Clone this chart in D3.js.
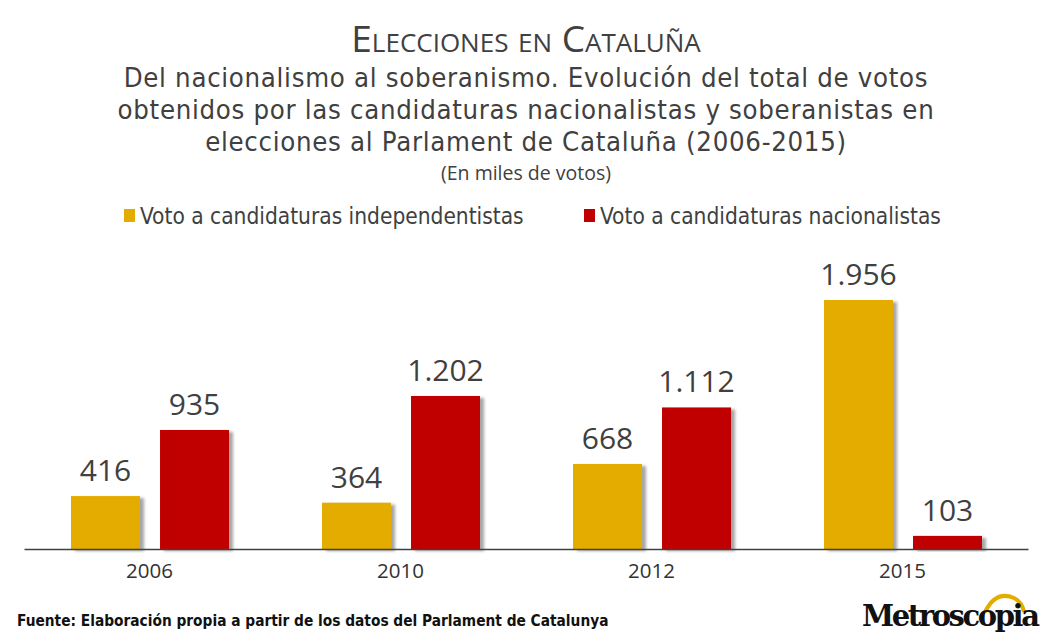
<!doctype html>
<html lang="es">
<head>
    <meta charset="utf-8">
    <title>Elecciones en Cataluña</title>
    <style>
        body {
            margin: 0;
            background-color: white;
            font-family: 'Open Sans', sans-serif;
        }
        svg text {
            fill: #404040;
        }
    </style>
</head>
<body>
    <svg id="chart"></svg>
    <script src="https://cdn.jsdelivr.net/npm/d3@7"></script>
    <script>
        var years = ["2006", "2010", "2012", "2015"];
        var seriesNames = ["Voto a candidaturas independentistas", "Voto a candidaturas nacionalistas"];
        var independentistas = [416, 364, 668, 1956];
        var nacionalistas = [935, 1202, 1112, 103];
        var valueLabels = [["416", "364", "668", "1.956"], ["935", "1.202", "1.112", "103"]];
        var colors = ["#e5ac00", "#c00000"];

        var svgWidth = 1051, svgHeight = 638;
        var svg = d3.select("#chart")
            .attr("width", svgWidth)
            .attr("height", svgHeight);

        // shadow behind bars
        var defs = svg.append("defs");
        var filter = defs.append("filter")
            .attr("id", "shadow")
            .attr("x", "-10%").attr("y", "-10%")
            .attr("width", "130%").attr("height", "130%");
        filter.append("feDropShadow")
            .attr("dx", 4).attr("dy", 2)
            .attr("stdDeviation", 1.5)
            .attr("flood-color", "#000")
            .attr("flood-opacity", 0.35);

        // titles
        svg.append("text")
            .attr("x", 526).attr("y", 52)
            .attr("text-anchor", "middle")
            .style("font-size", "37px")
            .style("font-variant", "small-caps")
            .text("Elecciones en Cataluña");

        var subtitle = [
            "Del nacionalismo al soberanismo. Evolución del total de votos",
            "obtenidos por las candidaturas nacionalistas y soberanistas en",
            "elecciones al Parlament de Cataluña (2006-2015)"
        ];
        svg.selectAll(".subtitle")
            .data(subtitle)
            .enter().append("text")
            .attr("class", "subtitle")
            .attr("x", 526)
            .attr("y", function (d, i) { return 87 + i * 32; })
            .attr("text-anchor", "middle")
            .style("font-family", "'DejaVu Sans Condensed', sans-serif")
            .style("font-size", "27.3px")
            .style("letter-spacing", "0.7px")
            .text(function (d) { return d; });

        svg.append("text")
            .attr("x", 526).attr("y", 180)
            .attr("text-anchor", "middle")
            .style("font-size", "19.5px")
            .text("(En miles de votos)");

        // legend
        var legendX = [124, 584];
        var legend = svg.selectAll(".legend")
            .data(seriesNames)
            .enter().append("g")
            .attr("class", "legend")
            .attr("transform", function (d, i) { return "translate(" + legendX[i] + ",0)"; });
        legend.append("rect")
            .attr("x", 0).attr("y", 209)
            .attr("width", 11).attr("height", 13)
            .attr("fill", function (d, i) { return colors[i]; });
        legend.append("text")
            .attr("x", 16).attr("y", 224)
            .style("font-family", "'DejaVu Sans Condensed', sans-serif")
            .style("font-size", "22.5px")
            .text(function (d) { return d; });

        // scales
        var baseline = 549;
        var x0 = d3.scaleBand().domain(years).range([24, 1028]);
        var x1 = d3.scaleBand().domain([0, 1]).range([47, 205]).paddingInner(0.225);
        var y = d3.scaleLinear().domain([0, 1956]).range([baseline, 300]);

        var data = years.map(function (yr, i) {
            return { year: yr, values: [independentistas[i], nacionalistas[i]], labels: [valueLabels[0][i], valueLabels[1][i]] };
        });

        var groups = svg.selectAll(".group")
            .data(data)
            .enter().append("g")
            .attr("class", "group")
            .attr("transform", function (d) { return "translate(" + x0(d.year) + ",0)"; });

        function split(d) {
            return d.values.map(function (v, k) { return { k: k, v: v, label: d.labels[k] }; });
        }

        groups.selectAll("rect")
            .data(split)
            .enter().append("rect")
            .attr("x", function (d) { return x1(d.k); })
            .attr("width", x1.bandwidth())
            .attr("y", function (d) { return y(d.v); })
            .attr("height", function (d) { return baseline - y(d.v); })
            .attr("fill", function (d) { return colors[d.k]; })
            .attr("filter", "url(#shadow)");

        groups.selectAll(".value")
            .data(split)
            .enter().append("text")
            .attr("class", "value")
            .attr("x", function (d) { return x1(d.k) + x1.bandwidth() / 2; })
            .attr("y", function (d) { return y(d.v) - 15; })
            .attr("text-anchor", "middle")
            .style("font-size", "30px")
            .text(function (d) { return d.label; });

        // axis
        var axis = svg.append("g")
            .attr("transform", "translate(0," + baseline + ")")
            .call(d3.axisBottom(x0).tickSize(0).tickPadding(14));
        axis.select(".domain").attr("stroke", "#404040").attr("stroke-width", 1.5);
        axis.selectAll("text")
            .style("font-family", "'Open Sans', sans-serif")
            .style("font-size", "20.5px")
            .style("fill", "#333");

        // footer
        svg.append("text")
            .attr("x", 17).attr("y", 626)
            .style("font-family", "'DejaVu Sans Condensed', sans-serif")
            .style("font-weight", "bold")
            .style("font-size", "15.3px")
            .style("fill", "#111")
            .text("Fuente: Elaboración propia a partir de los datos del Parlament de Catalunya");

        // logo
        svg.append("path")
            .attr("d", "M 985 612 Q 996 590 1014 598 Q 1022 602 1024 612")
            .attr("fill", "none")
            .attr("stroke", "#e5ac00")
            .attr("stroke-width", 4);
        svg.append("text")
            .attr("x", 862).attr("y", 626)
            .attr("textLength", 178)
            .style("font-family", "'DejaVu Serif', serif")
            .style("font-weight", "bold")
            .style("font-size", "29px")
            .style("fill", "#111")
            .text("Metroscopia");
    </script>
</body>
</html>
